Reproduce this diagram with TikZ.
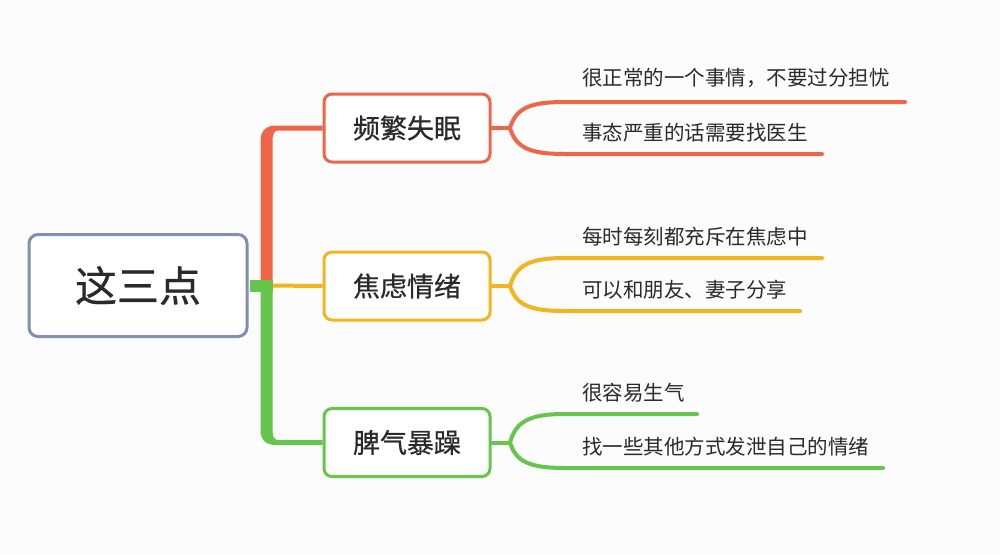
\documentclass[tikz,border=0pt]{standalone}
\usepackage{fontspec}
\newfontfamily\cjk{Noto Sans CJK SC}
\newfontfamily\cjkh[FakeBold=0.6]{Noto Sans CJK SC}
\usetikzlibrary{calc}
\definecolor{cred}{HTML}{EF6548}
\definecolor{cyel}{HTML}{F2B41F}
\definecolor{cgrn}{HTML}{66C64B}
\definecolor{cblue}{HTML}{8190B0}
\definecolor{ctext}{HTML}{2A2A2A}
\tikzset{
  rootbox/.style={draw=cblue, line width=3pt, rounded corners=9pt, fill=white, minimum width=218pt, minimum height=102pt, inner sep=0pt, text=ctext, font=\cjkh\fontsize{42}{46}\selectfont},
  topicbox/.style={line width=3pt, rounded corners=8pt, fill=white, minimum width=166pt, minimum height=68pt, inner sep=0pt, text=ctext, font=\cjkh\fontsize{27}{31}\selectfont},
  lab/.style={anchor=west, inner sep=0pt, text=ctext, font=\cjk\fontsize{20.5}{24}\selectfont},
  branch/.style={line width=4pt, line cap=round},
}
\begin{document}
\begin{tikzpicture}[x=1pt,y=-1pt]
\useasboundingbox (0,0) rectangle (1000,554);
\fill[white!99!black] (0,0) rectangle (1000,554);

% nodes
\node[rootbox] (root) at (138,285.5) {这三点};
\node[topicbox, draw=cred] (red) at (407,128) {频繁失眠};
\node[topicbox, draw=cyel] (yel) at (407,286) {焦虑情绪};
\node[topicbox, draw=cgrn] (grn) at (407,442.5) {脾气暴躁};

\coordinate (trunk) at (266.5,285.5);

% yellow connector
\draw[cyel, line width=4pt] (trunk) -- (yel.west);

% red trunk part
\fill[cred] (260.5,281) -- (260.5,141) .. controls (260.5,131) and (266,125.5) .. (276,125.5)
  -- ($(red.west)+(0,-2.5)$) -- ($(red.west)+(0,2.5)$) -- (278,130.5)
  .. controls (274.5,130.5) and (272.5,133.5) .. (272.5,141) -- (272.5,281) -- cycle;
% green trunk part
\fill[cgrn] (260.5,280) -- (260.5,430) .. controls (260.5,440) and (266,445) .. (276,445)
  -- ($(grn.west)+(0,2.5)$) -- ($(grn.west)+(0,-2.5)$) -- (278,440)
  .. controls (274.5,440) and (272.5,437) .. (272.5,430) -- (272.5,280) -- cycle;
% green stub from root
\draw[cgrn, line width=12pt] ($(root.east)+(1.5,0)$) -- ($(trunk)+(6,0)$);

% red branches
\coordinate (rf) at (510,128);
\coordinate (r1e) at (905,102);
\coordinate (r2e) at (822,154);
\draw[cred, branch] (red.east) -- (rf);
\draw[cred, branch] (rf) .. controls (516,108) and (530,102) .. (565,102) -- (r1e);
\draw[cred, branch] (rf) .. controls (516,148) and (530,154) .. (565,154) -- (r2e);
\node[lab] (r1) at (582,78) {很正常的一个事情，不要过分担忧};
\node[lab] (r2) at (582,133) {事态严重的话需要找医生};

% yellow branches
\coordinate (yf) at (510,286);
\coordinate (y1e) at (822,258);
\coordinate (y2e) at (800,311);
\draw[cyel, branch] (yel.east) -- (yf);
\draw[cyel, branch] (yf) .. controls (516,265) and (530,258) .. (565,258) -- (y1e);
\draw[cyel, branch] (yf) .. controls (516,305) and (530,311) .. (565,311) -- (y2e);
\node[lab] (y1) at (582,237) {每时每刻都充斥在焦虑中};
\node[lab] (y2) at (582,290) {可以和朋友、妻子分享};

% green branches
\coordinate (gf) at (510,442.5);
\coordinate (g1e) at (697,414);
\coordinate (g2e) at (883,468);
\draw[cgrn, branch] (grn.east) -- (gf);
\draw[cgrn, branch] (gf) .. controls (516,421) and (530,414) .. (565,414) -- (g1e);
\draw[cgrn, branch] (gf) .. controls (516,462) and (530,468) .. (565,468) -- (g2e);
\node[lab] (g1) at (582,393) {很容易生气};
\node[lab] (g2) at (582,447) {找一些其他方式发泄自己的情绪};
\end{tikzpicture}
\end{document}
